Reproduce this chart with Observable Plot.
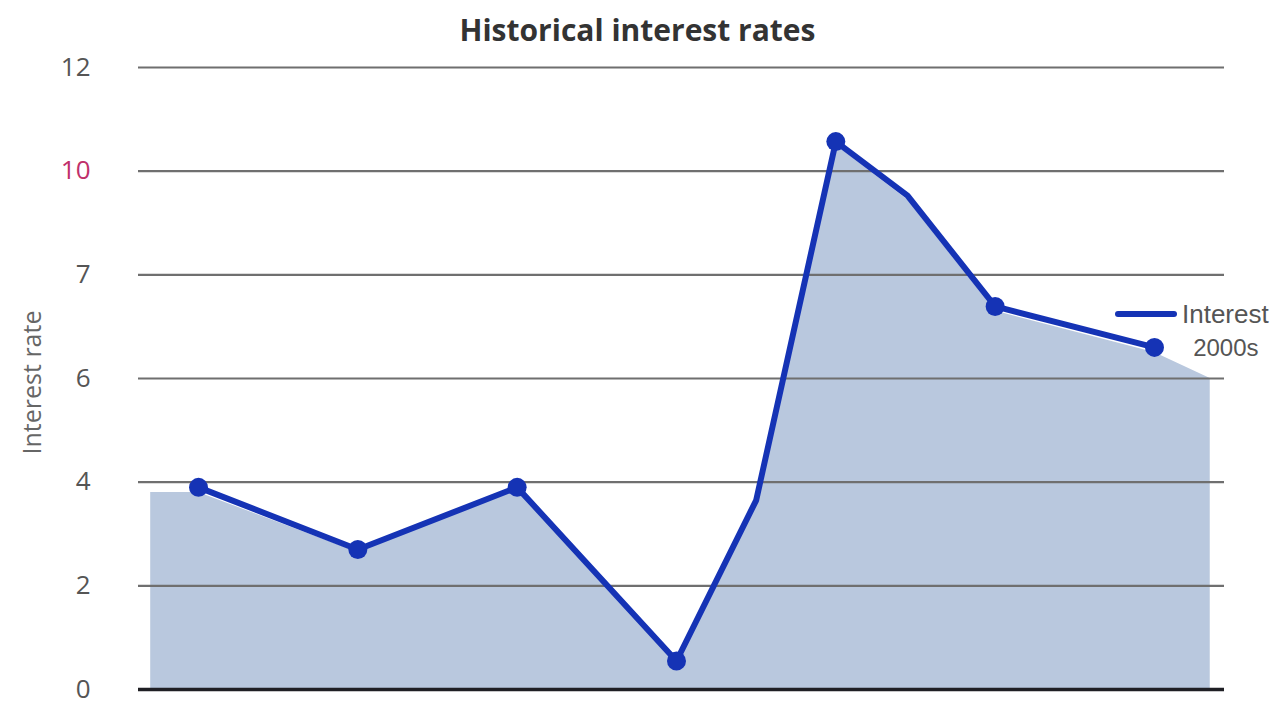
<!DOCTYPE html>
<html>
<head>
<meta charset="utf-8">
<script src="https://cdn.jsdelivr.net/npm/d3@7"></script>
<script src="https://cdn.jsdelivr.net/npm/@observablehq/plot@0.6"></script>
<style>
  html, body { margin: 0; padding: 0; background: #fff; }
  #wrap { position: relative; width: 1280px; height: 720px; overflow: hidden; font-family: "Open Sans", sans-serif; }
  #legend { position: absolute; left: 1115px; top: 297px; color: #555; font-family: "Liberation Sans", sans-serif; font-size: 26px; line-height: 34px; }
  #legend .row { display: flex; align-items: center; }
  #legend .sw { display: inline-block; width: 62px; height: 6px; background: #1533b5; border-radius: 3px; margin-right: 5px; }
  #legend .sub { text-align: center; padding-left: 68px; font-size: 24px; }
</style>
</head>
<body>
<div id="wrap">
  <div id="chart"></div>
  <div id="legend"><div class="row"><span class="sw"></span><span>Interest</span></div><div class="sub">2000s</div></div>
</div>
<script>
// Data
const periods = [0, 1, 2, 3, 3.5, 4, 4.45, 5, 6];
const rates = [3.9, 2.7, 3.9, 0.55, 3.65, 10.57, 9.53, 7.39, 6.6];
const markerPeriods = [0, 1, 2, 3, 4, 5, 6];
const markerRates = [3.9, 2.7, 3.9, 0.55, 10.57, 7.39, 6.6];
const areaPeriods = [-0.3, 0, 1, 2, 3, 3.5, 4, 4.45, 5, 6, 6.35];
const areaRates = [3.8, 3.8, 2.65, 3.85, 0.5, 3.6, 10.5, 9.45, 7.3, 6.5, 6.0];
const tickValues = [0, 2, 4, 6, 8, 10, 12];
const tickLabels = ["0", "2", "4", "6", "7", "10", "12"];
const titleText = "Historical interest rates";
const yTitle = "Interest rate";

const lineData = periods.map((p, i) => ({p, r: rates[i]}));
const markerData = markerPeriods.map((p, i) => ({p, r: markerRates[i]}));
const areaData = areaPeriods.map((p, i) => ({p, r: areaRates[i]}));
const tickData = tickValues.map((v, i) => ({v, label: tickLabels[i]}));

const blue = "#1533b5";
const plot = Plot.plot({
  width: 1280,
  height: 720,
  marginTop: 67,
  marginBottom: 31,
  marginLeft: 138,
  marginRight: 56,
  x: {domain: [-0.3766, 6.4395], axis: null},
  y: {domain: [0, 12], axis: null},
  style: {fontFamily: "Open Sans, sans-serif", background: "#fff"},
  marks: [
    Plot.areaY(areaData, {x: "p", y: "r", fill: "#b9c8de"}),
    Plot.ruleY(tickValues.filter(v => v > 0), {stroke: "#6f6f6f", strokeWidth: 2.2}),
    Plot.ruleY([0], {stroke: "#1f1f24", strokeWidth: 3.5}),
    Plot.line(lineData, {x: "p", y: "r", stroke: blue, strokeWidth: 6, strokeLinejoin: "round", strokeLinecap: "round"}),
    Plot.dot(markerData, {x: "p", y: "r", r: 9.5, fill: blue}),
    Plot.text(tickData, {frameAnchor: "left", y: "v", text: "label", dx: -48, textAnchor: "end", fontSize: 26, fill: d => d.label === "10" ? "#c0306a" : "#555"}),
    Plot.text([titleText], {frameAnchor: "top", dx: -44, dy: -27, lineAnchor: "bottom", fontSize: 30, fontWeight: "bold", fill: "#333"}),
    Plot.text([yTitle], {frameAnchor: "left", textAnchor: "middle", dx: -106, dy: 4, rotate: -90, fontSize: 25, fill: "#666"})
  ]
});
document.getElementById("chart").appendChild(plot);
</script>
</body>
</html>
